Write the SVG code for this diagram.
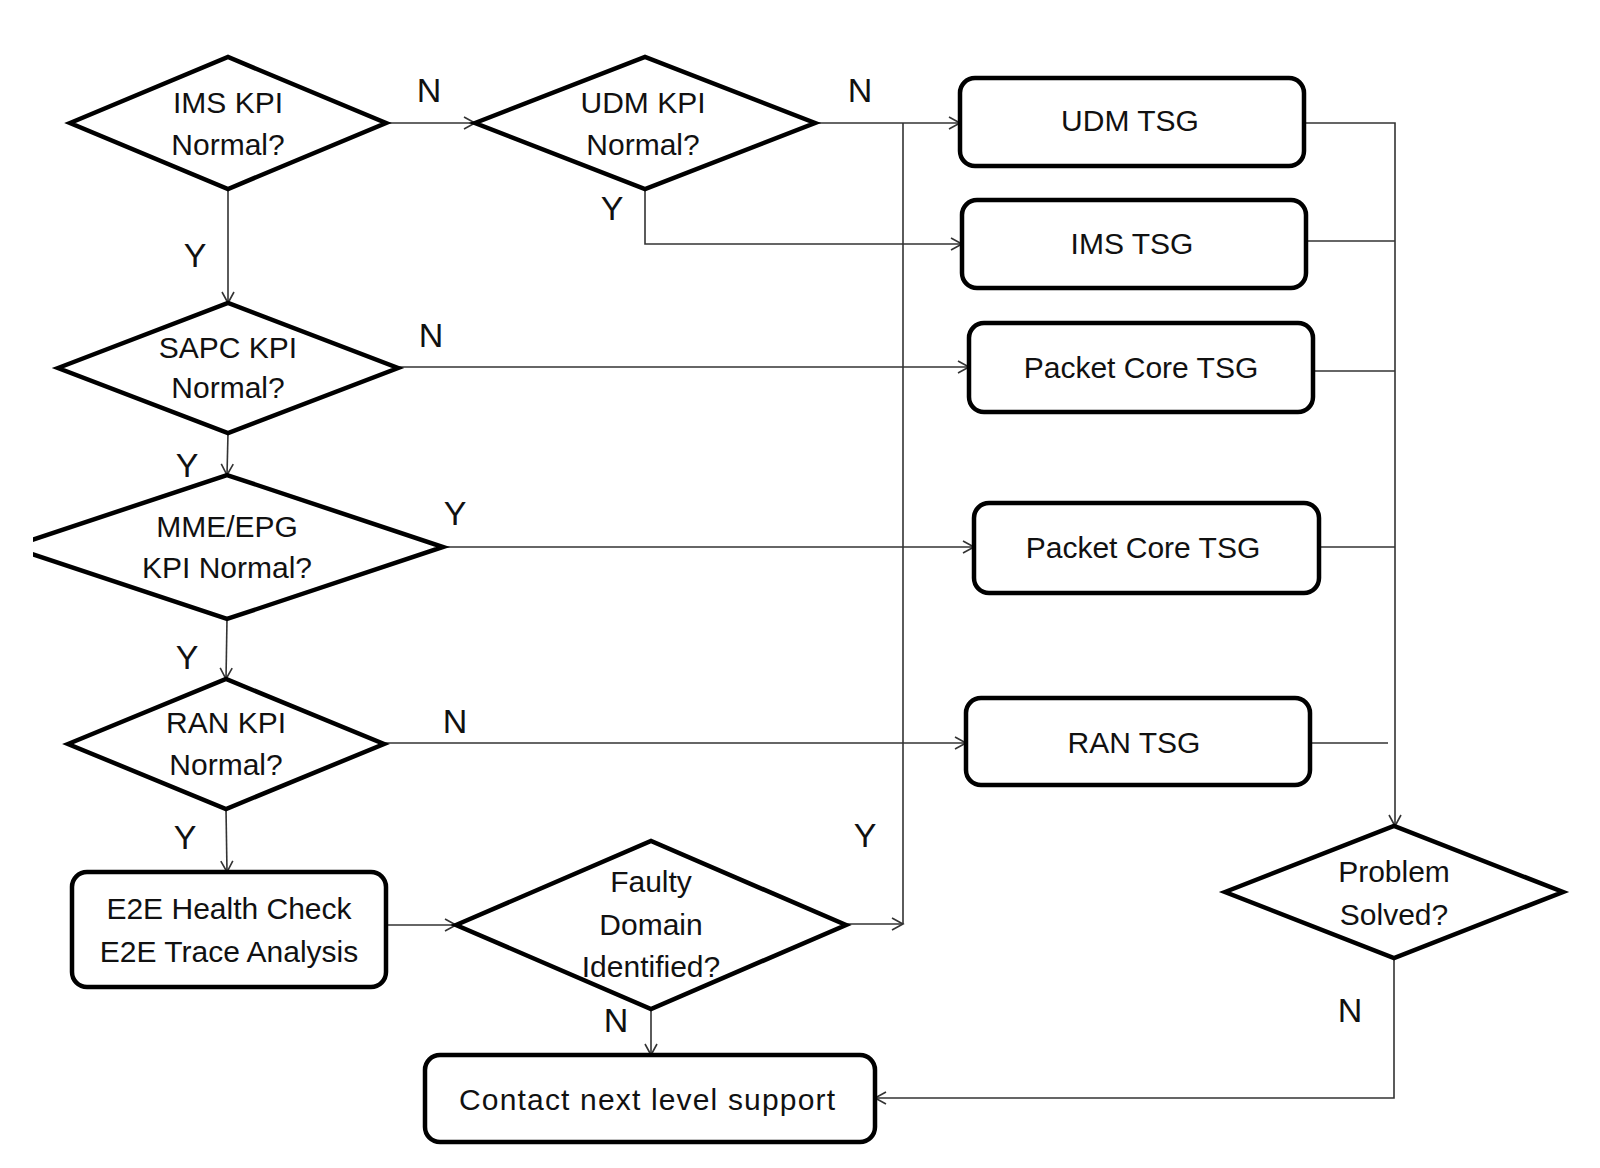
<svg xmlns="http://www.w3.org/2000/svg" width="1600" height="1168" viewBox="0 0 1600 1168">
<style>
.node{fill:#fff;stroke:#000;stroke-width:4.5;stroke-linejoin:miter}
.box{fill:#fff;stroke:#000;stroke-width:4.5}
.t{font-family:"Liberation Sans",Arial,sans-serif;font-size:30px;fill:#111;text-anchor:middle}
.lbl{font-family:"Liberation Sans",Arial,sans-serif;font-size:34px;fill:#111;text-anchor:middle}
.c{fill:none;stroke:#333;stroke-width:1.6}
.a{marker-end:url(#arr)}
</style>
<defs>
<marker id="arr" markerUnits="userSpaceOnUse" markerWidth="14" markerHeight="16" refX="12" refY="7" orient="auto">
<path d="M1,1 L12,7 L1,13" fill="none" stroke="#333" stroke-width="1.6"/>
</marker>
<clipPath id="clipL"><rect x="33" y="0" width="1600" height="1168"/></clipPath>
</defs>
<rect width="1600" height="1168" fill="#fff"/>

<g id="connectors">
<path class="c a" d="M386,123 H475"/>
<path class="c a" d="M228,189 V303"/>
<path class="c a" d="M815,123 H960"/>
<path class="c a" d="M645,189 V244 H962"/>
<path class="c a" d="M398,367 H969"/>
<path class="c a" d="M228,433 L227,475"/>
<path class="c a" d="M443,547 H974"/>
<path class="c a" d="M227,619 L226,679"/>
<path class="c a" d="M384,743 H966"/>
<path class="c a" d="M226,809 L227,872"/>
<path class="c a" d="M380,925 H456"/>
<path class="c a" d="M846,924 H903"/>
<path class="c" d="M903,123 V924"/>
<path class="c a" d="M651,1009 V1055"/>
<path class="c a" d="M1304,123 H1395 V826"/>
<path class="c" d="M1306,241 H1395"/>
<path class="c" d="M1313,371 H1395"/>
<path class="c" d="M1313,547 H1395"/>
<path class="c" d="M1310,743 H1388"/>
<path class="c a" d="M1394,958 V1098 H875"/>
<text class="lbl" x="429" y="102">N</text>
<text class="lbl" x="195" y="267">Y</text>
<text class="lbl" x="860" y="102">N</text>
<text class="lbl" x="612" y="220">Y</text>
<text class="lbl" x="431" y="347">N</text>
<text class="lbl" x="187" y="477">Y</text>
<text class="lbl" x="455" y="525">Y</text>
<text class="lbl" x="187" y="669">Y</text>
<text class="lbl" x="455" y="733">N</text>
<text class="lbl" x="185" y="849">Y</text>
<text class="lbl" x="865" y="847">Y</text>
<text class="lbl" x="616" y="1032">N</text>
<text class="lbl" x="1350" y="1022">N</text>
</g>

<g id="ims-kpi">
<polygon class="node" points="70,123 228,57 386,123 228,189"/>
<text class="t" x="228" y="113">IMS KPI</text>
<text class="t" x="228" y="155">Normal?</text>
</g>
<g id="udm-kpi">
<polygon class="node" points="475,123 645,57 815,123 645,189"/>
<text class="t" x="643" y="113">UDM KPI</text>
<text class="t" x="643" y="155">Normal?</text>
</g>
<g id="sapc-kpi">
<polygon class="node" points="58,368 228,303 398,368 228,433"/>
<text class="t" x="228" y="358">SAPC KPI</text>
<text class="t" x="228" y="398">Normal?</text>
</g>
<g id="mme-epg-kpi">
<polygon class="node" points="11,547 227,475 443,547 227,619" clip-path="url(#clipL)"/>
<text class="t" x="227" y="537">MME/EPG</text>
<text class="t" x="227" y="578">KPI Normal?</text>
</g>
<g id="ran-kpi">
<polygon class="node" points="68,744 226,679 384,744 226,809"/>
<text class="t" x="226" y="733">RAN KPI</text>
<text class="t" x="226" y="775">Normal?</text>
</g>
<g id="e2e">
<rect class="box" x="72" y="872" width="314" height="115" rx="15"/>
<text class="t" x="229" y="919">E2E Health Check</text>
<text class="t" x="229" y="962">E2E Trace Analysis</text>
</g>
<g id="faulty-domain">
<polygon class="node" points="456,925 651,841 846,925 651,1009"/>
<text class="t" x="651" y="892">Faulty</text>
<text class="t" x="651" y="935">Domain</text>
<text class="t" x="651" y="977">Identified?</text>
</g>
<g id="contact">
<rect class="box" x="425" y="1055" width="450" height="87" rx="15"/>
<text class="t" x="647" y="1110" textLength="376" lengthAdjust="spacing">Contact next level support</text>
</g>
<g id="udm-tsg">
<rect class="box" x="960" y="78" width="344" height="88" rx="15"/>
<text class="t" x="1130" y="131">UDM TSG</text>
</g>
<g id="ims-tsg">
<rect class="box" x="962" y="200" width="344" height="88" rx="15"/>
<text class="t" x="1132" y="254">IMS TSG</text>
</g>
<g id="packet-core-tsg-1">
<rect class="box" x="969" y="323" width="344" height="89" rx="15"/>
<text class="t" x="1141" y="378">Packet Core TSG</text>
</g>
<g id="packet-core-tsg-2">
<rect class="box" x="974" y="503" width="345" height="90" rx="15"/>
<text class="t" x="1143" y="558">Packet Core TSG</text>
</g>
<g id="ran-tsg">
<rect class="box" x="966" y="698" width="344" height="87" rx="15"/>
<text class="t" x="1134" y="753">RAN TSG</text>
</g>
<g id="problem-solved">
<polygon class="node" points="1225,892 1394,826 1563,892 1394,958"/>
<text class="t" x="1394" y="882">Problem</text>
<text class="t" x="1394" y="925">Solved?</text>
</g>
</svg>
